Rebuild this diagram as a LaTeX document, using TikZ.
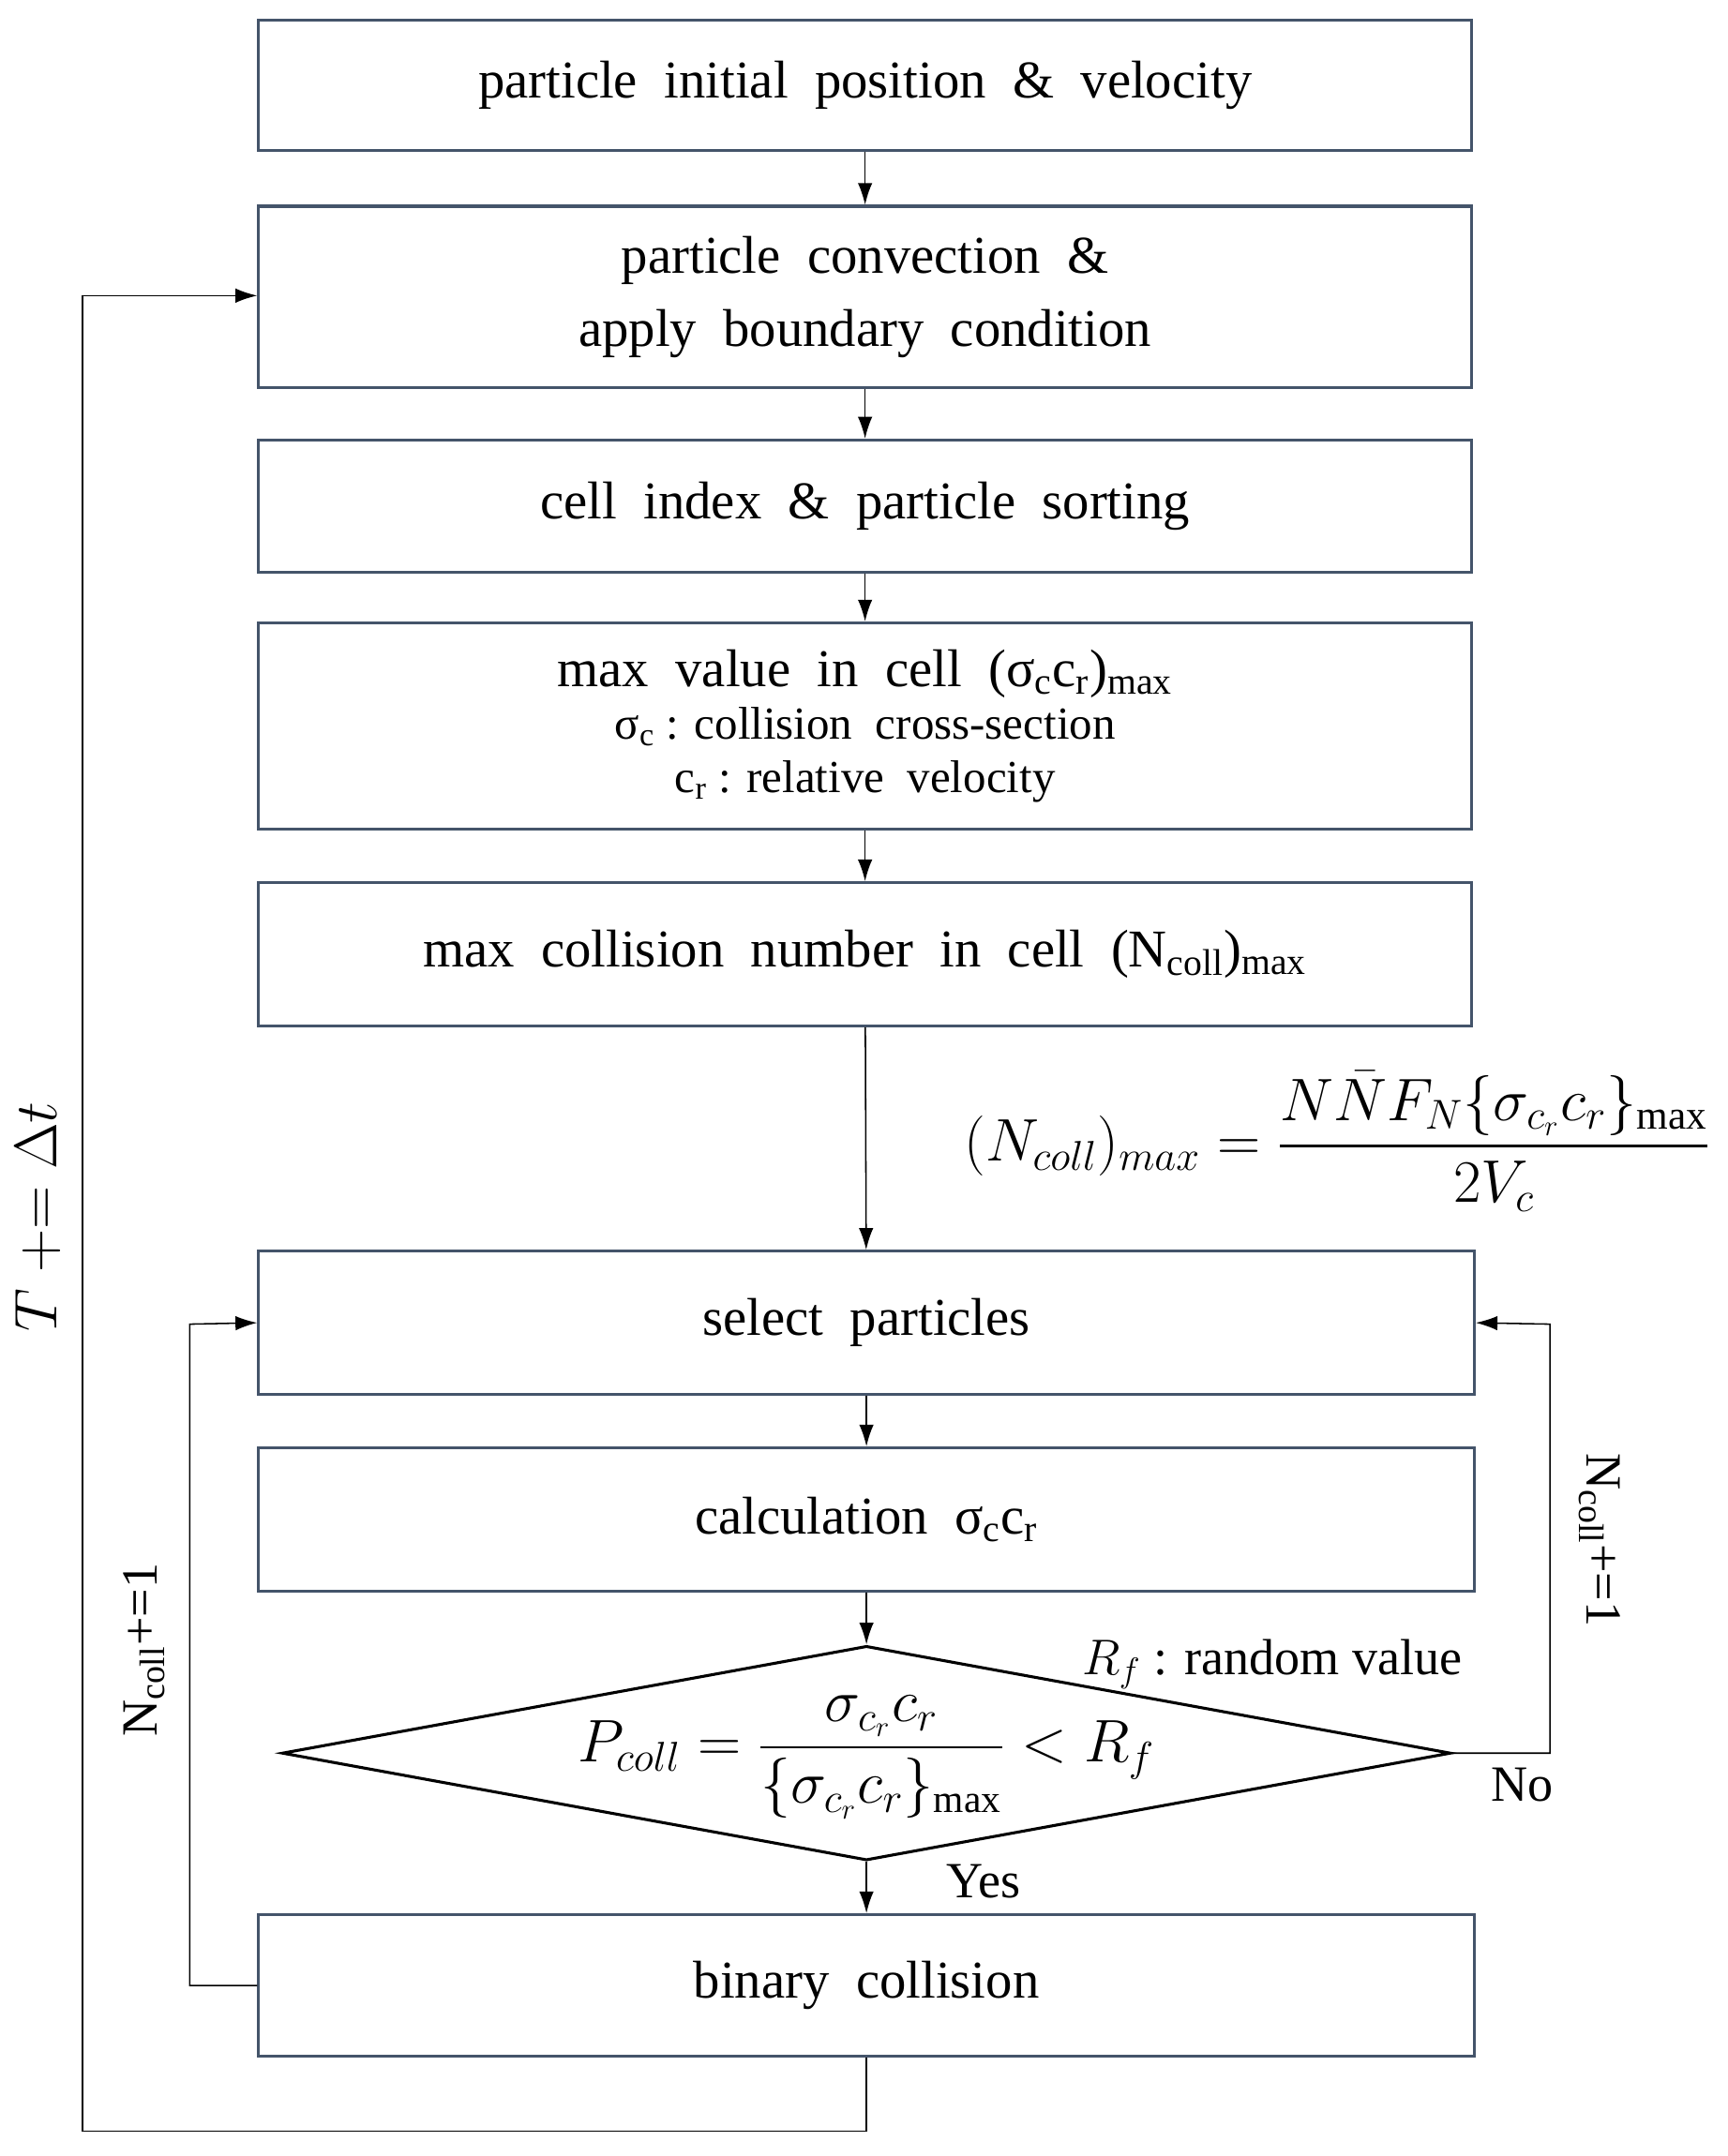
\documentclass[tikz,border=0pt]{standalone}
\usepackage{amsmath}
\usepackage{fontspec}
\setmainfont{Liberation Serif}
\usetikzlibrary{shapes.geometric,arrows.meta}
\definecolor{boxline}{HTML}{44546A}
\begin{document}
\begin{tikzpicture}[x=0.02cm,y=-0.02cm,
    box/.style={draw=boxline,line width=1.2pt,minimum width=17.64cm,align=center,
      font=\fontsize{22}{30}\selectfont},
    arr/.style={-{Latex[length=9pt,width=6pt]},line width=0.6pt},
    lbl/.style={font=\fontsize{21}{24}\selectfont}]
\useasboundingbox (0,0) rectangle (1256,1568);
\node[box,minimum height=1.9cm] (b1) at (629,62) {particle\ \ initial\ \ position\ \ \&\ \ velocity};
\node[box,minimum height=2.64cm] (b2) at (629,216) {particle\ \ convection\ \ \&\\apply\ \ boundary\ \ condition};
\node[box,minimum height=1.92cm] (b3) at (629,368) {cell\ \ index\ \ \&\ \ particle\ \ sorting};
\node[box,minimum height=3.0cm,font=\fontsize{19}{22}\selectfont] (b4) at (629,528)
  {{\fontsize{22}{26}\selectfont max\ \ value\ \ in\ \ cell\ \ (σ\textsubscript{c}c\textsubscript{r})\textsubscript{max}}\\
   σ\textsubscript{c} : collision\ \ cross-section\\ c\textsubscript{r} : relative\ \ velocity};
\node[box,minimum height=2.08cm] (b5) at (629,694) {max\ \ collision\ \ number\ \ in\ \ cell\ \ (N\textsubscript{coll})\textsubscript{max}};
\node[box,minimum height=2.08cm,minimum width=17.68cm] (b6) at (630,962) {select\ \ particles};
\node[box,minimum height=2.08cm,minimum width=17.68cm] (b7) at (630,1105) {calculation\ \ σ\textsubscript{c}c\textsubscript{r}};
\node[diamond,draw=black,line width=1.2pt,minimum width=17cm,minimum height=3.12cm,aspect=5.4,inner sep=0pt] (d) at (630,1275) {};
\node[font=\fontsize{23}{26}\selectfont] (f) at (630,1278) {$P_{coll}=\dfrac{\sigma_{c_r}c_r}{\{\sigma_{c_r}c_r\}_{\mathrm{max}}}<R_f$};
\node[box,minimum height=2.06cm,minimum width=17.68cm] (b8) at (630,1444) {binary\ \ collision};
\coordinate (c1) at (630,1550);
\coordinate (c2) at (60,1550);
\coordinate (c3) at (60,215);
\coordinate (c4) at (138,1444);
\coordinate (c5) at (138,963);
\coordinate (c6) at (1127,1275);
\coordinate (c7) at (1127,963);
\draw[arr] (b1) -- (b2);
\draw[arr] (b2) -- (b3);
\draw[arr] (b3) -- (b4);
\draw[arr] (b4) -- (b5);
\draw[arr] (b5) -- (b6);
\draw[arr] (b6) -- (b7);
\draw[arr] (b7) -- (d);
\draw[arr] (d) -- (b8);
\draw[arr] (b8.south) -- (c1) -- (c2) -- (c3) -- (b2.west |- c3);
\draw[arr] (b8.west) -- (c4) -- (c5) -- (b6.west);
\draw[arr] (d.east) -- (c6) -- (c7) -- (b6.east);
\node[font=\fontsize{24}{26}\selectfont,rotate=90] (t) at (28,885) {$T\mathrel{+}=\Delta t$};
\node[lbl,rotate=90] (n1) at (105,1200) {N\textsubscript{coll}+=1};
\node[lbl,rotate=-90] (n2) at (1163,1120) {N\textsubscript{coll}+=1};
\node[font=\fontsize{24}{26}\selectfont,anchor=east] (eq) at (1250,830) {$(N_{coll})_{max}=\dfrac{N\bar{N}F_N\{\sigma_{c_r}c_r\}_{\mathrm{max}}}{2V_c}$};
\node[lbl] (rf) at (925,1210) {$R_f$ : random value};
\node[lbl] (no) at (1107,1298) {No};
\node[lbl] (yes) at (715,1368) {Yes};
\end{tikzpicture}
\end{document}
